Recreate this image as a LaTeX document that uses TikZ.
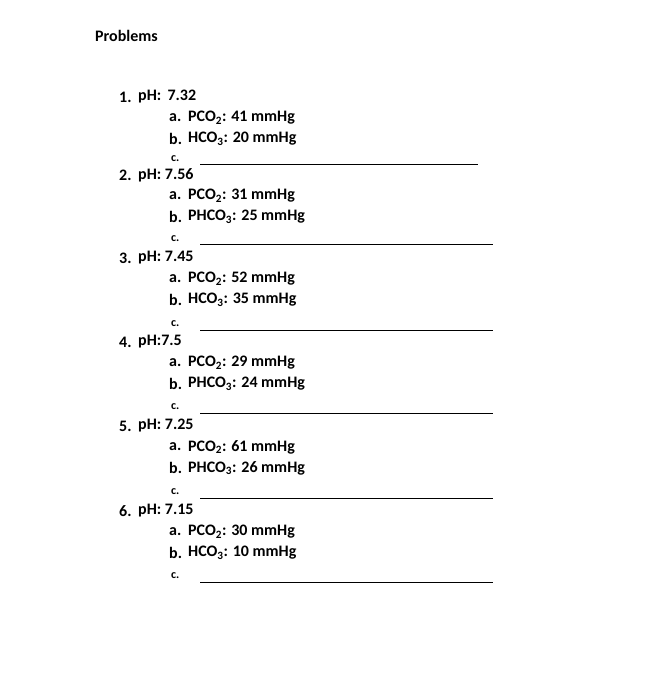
\documentclass[tikz,border=0pt]{standalone}
\usepackage{fontspec}
\setmainfont{Carlito}
\begin{document}
\begin{tikzpicture}[x=1pt,y=-1pt,
  t/.style={anchor=west,inner sep=0pt,font=\fontsize{16}{18}\selectfont\bfseries},
  tc/.style={anchor=west,inner sep=0pt,font=\fontsize{12}{14}\selectfont\bfseries},
  blank/.style={line width=1pt}]
\useasboundingbox (0,0) rectangle (652,700);
\node[t] (title) at (95,36) {Problems};
\def\prob#1#2#3#4#5#6#7{%
  \node[t] (n#1) at (119,#2) {#1.};
  \node[t] (p#1) at (138,#2) {#3};
  \node[t] (la#1) at (169,#2+21) {a.};
  \node[t] (a#1) at (188,#2+21) {#4};
  \node[t] (lb#1) at (169,#2+42) {b.};
  \node[t] (b#1) at (188,#2+42) {#5};
  \node[tc] (lc#1) at (171,#2+#6) {c.};
  \coordinate (s#1) at (200,#2+#6+6);
  \coordinate (e#1) at (#7,#2+#6+6);
  \draw[blank] (s#1) -- (e#1);}
\prob{1}{97}{pH:\, 7.32}{PCO\textsubscript{2}: 41 mmHg}{HCO\textsubscript{3}: 20 mmHg}{62}{478}
\prob{2}{175}{pH: 7.56}{PCO\textsubscript{2}: 31 mmHg}{PHCO\textsubscript{3}: 25 mmHg}{64}{493}
\prob{3}{258}{pH: 7.45}{PCO\textsubscript{2}: 52 mmHg}{HCO\textsubscript{3}: 35 mmHg}{66}{493}
\prob{4}{342}{pH:7.5}{PCO\textsubscript{2}: 29 mmHg}{PHCO\textsubscript{3}: 24 mmHg}{65}{493}
\prob{5}{426}{pH: 7.25}{PCO\textsubscript{2}: 61 mmHg}{PHCO\textsubscript{3}: 26 mmHg}{66}{493}
\prob{6}{511}{pH: 7.15}{PCO\textsubscript{2}: 30 mmHg}{HCO\textsubscript{3}: 10 mmHg}{65}{493}
\end{tikzpicture}
\end{document}
